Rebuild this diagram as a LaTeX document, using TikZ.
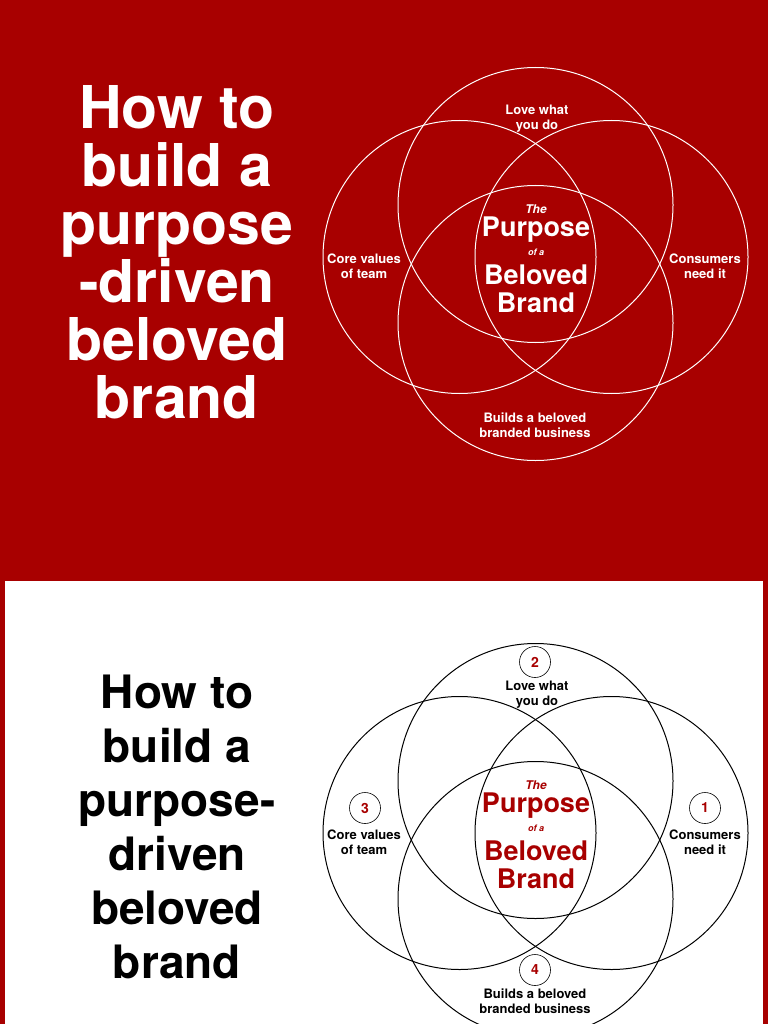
\documentclass[tikz,border=0pt]{standalone}
\usepackage{fontspec}
\setmainfont{TeX Gyre Heros}
\definecolor{brandred}{HTML}{A80000}
\begin{document}
\begin{tikzpicture}[x=1pt,y=-1pt,
  ring/.style={line width=1pt},
  lbl/.style={font=\bfseries\fontsize{13}{15}\selectfont,align=center,inner sep=0pt},
  title/.style={font=\bfseries\fontsize{59}{58}\selectfont,align=center,inner sep=0pt},
  numc/.style={circle,draw=black,fill=white,line width=0.6pt,minimum size=31pt,inner sep=0pt,text=brandred,font=\bfseries\fontsize{14}{14}\selectfont},
  big/.style={font=\bfseries\fontsize{27}{27}\selectfont,inner sep=0pt},
  small/.style={font=\bfseries\itshape\fontsize{12}{12}\selectfont,inner sep=0pt},
  tiny/.style={font=\bfseries\itshape\fontsize{9}{9}\selectfont,inner sep=0pt}]
\useasboundingbox (0,0) rectangle (768,1024);
\fill[brandred] (0,0) rectangle (768,1024);
\fill[white] (5,581) rectangle (763,1024);
% top panel
\begin{scope}[white,ring]
\draw (535.5,205) circle (137.5);
\draw (459.5,257) circle (136.5);
\draw (611.5,257) circle (136.5);
\draw (535.5,323) circle (137.5);
\end{scope}
\node[title,text=white] (t1) at (177,252) {How to\\build a\\purpose\\-driven\\beloved\\brand};
\node[lbl,text=white] (a1) at (537,119) {Love what\\you do};
\node[lbl,text=white] (b1) at (364,266) {Core values\\of team};
\node[lbl,text=white] (c1) at (705,266) {Consumers\\need it};
\node[lbl,text=white] (d1) at (535,425) {Builds a beloved\\branded business};
\node[small,text=white] (e1) at (536,209) {The};
\node[big,text=white] (f1) at (536,230) {Purpose};
\node[tiny,text=white] (g1) at (536,252) {of a};
\node[big,text=white] (h1) at (536,275) {Beloved};
\node[big,text=white] (i1) at (536,303) {Brand};
% bottom panel
\begin{scope}[black,ring]
\draw (535.5,781) circle (137.5);
\draw (459.5,833) circle (136.5);
\draw (611.5,833) circle (136.5);
\draw (535.5,899) circle (137.5);
\end{scope}
\node[title,font=\bfseries\fontsize{46}{54}\selectfont] (t2) at (177,827) {How to\\build a\\purpose-\\driven\\beloved\\brand};
\node[numc] (n2) at (535,662) {2};
\node[numc] (n3) at (365,808) {3};
\node[numc] (n1) at (705,808) {1};
\node[numc] (n4) at (535,970) {4};
\node[lbl] (a2) at (537,695) {Love what\\you do};
\node[lbl] (b2) at (364,842) {Core values\\of team};
\node[lbl] (c2) at (705,842) {Consumers\\need it};
\node[lbl] (d2) at (535,1001) {Builds a beloved\\branded business};
\node[small,text=brandred] (e2) at (536,785) {The};
\node[big,text=brandred] (f2) at (536,806) {Purpose};
\node[tiny,text=brandred] (g2) at (536,828) {of a};
\node[big,text=brandred] (h2) at (536,851) {Beloved};
\node[big,text=brandred] (i2) at (536,879) {Brand};
\end{tikzpicture}
\end{document}
